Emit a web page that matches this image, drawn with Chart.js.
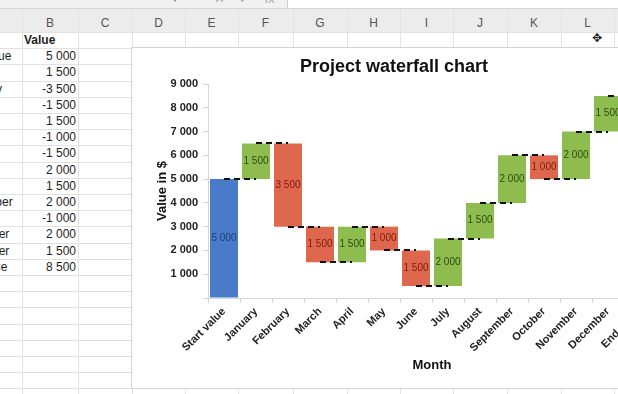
<!DOCTYPE html>
<html>
<head>
<meta charset="utf-8">
<script src="https://cdn.jsdelivr.net/npm/chart.js@4.4.0/dist/chart.umd.min.js"></script>
<style>
html,body{margin:0;padding:0;width:618px;height:394px;overflow:hidden;background:#fff;font-family:"Liberation Sans",Arial,sans-serif;}
#sheet{position:absolute;left:0;top:0;width:618px;height:394px;overflow:hidden;}
.hl{position:absolute;left:0;width:618px;height:1px;background:#e2e2e2;}
.vl{position:absolute;width:1px;background:#e2e2e2;}
.cell{position:absolute;font-size:12px;line-height:16px;color:#1e1e1e;white-space:nowrap;}
.hdr{position:absolute;top:15px;font-size:12px;line-height:16px;color:#555;text-align:center;}
#fbar{position:absolute;left:0;top:0;width:618px;height:8px;background:#f1f1f1;border-bottom:1px solid #d8d8d8;overflow:hidden;}
#headband{position:absolute;left:0;top:9px;width:618px;height:23px;background:#ececec;border-bottom:1px solid #cfcfcf;}
#chartBox{position:absolute;left:131px;top:47px;width:540px;height:340px;background:#fff;border:1px solid #d3d3d3;}
#chartBox canvas{position:absolute;left:0;top:0;}
</style>
</head>
<body>
<div id="sheet">
  <div id="fbar">
    <div style="position:absolute;left:287px;top:0;width:331px;height:8px;background:#fff;border-left:1px solid #d0d0d0;"></div>
    <div style="position:absolute;left:172px;top:-9px;font-size:12px;color:#777;">&#9662;</div>
    <div style="position:absolute;left:214px;top:-9px;font-size:13px;color:#aaa;">&#10005;&nbsp;&nbsp;&nbsp;&nbsp;&#10003;&nbsp;&nbsp;&nbsp;&nbsp;<i>fx</i></div>
  </div>
  <div id="headband"></div>
</div>
<div id="chartBox"><canvas id="wf" width="540" height="339"></canvas></div>

<script>
const FONT = '"Liberation Sans", Arial, sans-serif';

const categories = ['Start value','January','February','March','April','May','June',
  'July','August','September','October','November','December','End value'];
const changes = [5000,1500,-3500,-1500,1500,-1000,-1500,2000,1500,2000,-1000,2000,1500,8500];

const colLetters = ['B','C','D','E','F','G','H','I','J','K','L'];
const colEdges = [22,78,132,185,238,293,347,400,453,507,561,614];

const yMin = 0, yMax = 9000, yStep = 1000;

const COLORS = {
  total: '#4a7bc9', up: '#8cbd4e', down: '#df674d'
};
const LABEL_COLORS = {
  total: '#1d3d78', up: '#2f4a10', down: '#7c1c0c'
};

function fmt(n){
  const s = String(Math.abs(n)).replace(/\B(?=(\d{3})+(?!\d))/g, ' ');
  return n < 0 ? '-' + s : s;
}

// ---- spreadsheet background ----
(function buildSheet(){
  const sheet = document.getElementById('sheet');
  const ROW0 = 32, RH = 16.2;
  for(let k=0;k<=23;k++){
    const d = document.createElement('div');
    d.className = 'hl'; d.style.top = (ROW0 + RH*k) + 'px';
    sheet.appendChild(d);
  }
  colEdges.forEach(x => {
    const d = document.createElement('div');
    d.className = 'vl'; d.style.left = x + 'px'; d.style.top = '9px'; d.style.height = '385px';
    sheet.appendChild(d);
  });
  colLetters.forEach((c,i) => {
    const d = document.createElement('div');
    d.className = 'hdr';
    d.style.left = colEdges[i] + 'px';
    d.style.width = (colEdges[i+1]-colEdges[i]) + 'px';
    d.textContent = c;
    sheet.appendChild(d);
  });
  const addCell = (txt, x, row, opts) => {
    const d = document.createElement('div');
    d.className = 'cell';
    d.style.top = (ROW0 + RH*(row-1)) + 'px';
    if(opts && opts.right){ d.style.right = (618 - x) + 'px'; } else { d.style.left = x + 'px'; }
    if(opts && opts.bold) d.style.fontWeight = 'bold';
    d.textContent = txt;
    sheet.appendChild(d);
  };
  addCell('Value', 24, 1, {bold:true});
  categories.forEach((c,i) => {
    addCell(c, -46, i+2);
    addCell(fmt(changes[i]), 76, i+2, {right:true});
  });
  const cur = document.createElement('div');
  cur.className = 'cell';
  cur.style.left = '592px'; cur.style.top = '30px'; cur.style.fontSize = '12px';
  cur.style.fontFamily = '"DejaVu Sans"'; cur.style.color = '#222';
  cur.textContent = '\u2725';
  sheet.appendChild(cur);
})();

// ---- waterfall data ----
const n = categories.length;
const floating = [];
const levels = [];
const kinds = [];
let run = 0;
for(let i=0;i<n;i++){
  if(i === 0 || i === n-1){
    floating.push([0, changes[i]]);
    run = changes[i];
    kinds.push('total');
  } else {
    floating.push([run, run + changes[i]]);
    run += changes[i];
    kinds.push(changes[i] >= 0 ? 'up' : 'down');
  }
  levels.push(run);
}

const barLabels = {
  id: 'barLabels',
  afterDatasetsDraw(chart){
    const ctx = chart.ctx;
    const meta = chart.getDatasetMeta(0);
    ctx.save();
    ctx.font = '10px ' + FONT;
    ctx.textAlign = 'center';
    ctx.textBaseline = 'middle';
    meta.data.forEach((bar, i) => {
      ctx.fillStyle = LABEL_COLORS[kinds[i]];
      ctx.fillText(fmt(Math.abs(changes[i])), bar.x, (bar.y + bar.base)/2);
    });
    ctx.restore();
  }
};

const connectors = {
  id: 'connectors',
  afterDatasetsDraw(chart){
    const ctx = chart.ctx, xs = chart.scales.x, ys = chart.scales.y;
    ctx.save();
    ctx.strokeStyle = '#111';
    ctx.lineWidth = 2;
    ctx.setLineDash([6,4]);
    for(let i=0;i<n-1;i++){
      const y = Math.round(ys.getPixelForValue(levels[i]));
      ctx.beginPath();
      ctx.moveTo(xs.getPixelForValue(i), y);
      ctx.lineTo(xs.getPixelForValue(i+1), y);
      ctx.stroke();
    }
    ctx.restore();
  }
};

new Chart(document.getElementById('wf'), {
  type: 'bar',
  data: {
    labels: categories,
    datasets: [{
      data: floating,
      backgroundColor: kinds.map(k => COLORS[k]),
      borderWidth: 0,
      categoryPercentage: 1,
      barPercentage: 0.875
    }]
  },
  options: {
    responsive: false,
    animation: false,
    layout: { padding: { left: 0, right: 16, top: 0, bottom: 0 } },
    plugins: {
      legend: { display: false },
      tooltip: { enabled: false },
      title: {
        display: true, text: 'Project waterfall chart', color: '#111',
        font: { family: FONT, size: 18, weight: 'bold' },
        padding: { top: 8, bottom: 6.4 }
      }
    },
    scales: {
      x: {
        grid: { offset: true, drawOnChartArea: false, drawTicks: true, tickLength: 5, color: '#d6d6d6' },
        border: { color: '#d6d6d6' },
        ticks: { autoSkip: false, minRotation: 45, maxRotation: 45, padding: 2, color: '#222',
                 font: { family: FONT, size: 11, weight: 'bold' } },
        title: { display: true, text: 'Month', color: '#111',
                 font: { family: FONT, size: 13, weight: 'bold' }, padding: { top: 0, bottom: 14 } },
        afterFit(s){ s.height = 89; }
      },
      y: {
        min: yMin, max: yMax,
        grid: { drawOnChartArea: false, drawTicks: true, tickLength: 5, color: '#d6d6d6' },
        border: { color: '#d6d6d6' },
        ticks: { stepSize: yStep, padding: 5, color: '#222',
                 font: { family: FONT, size: 11, weight: 'bold' },
                 callback: v => v === 0 ? '' : fmt(v) },
        title: { display: true, text: 'Value in $', color: '#111',
                 font: { family: FONT, size: 13, weight: 'bold' }, padding: { top: 23, bottom: 0 } },
        afterFit(s){ s.width = 76; }
      }
    }
  },
  plugins: [barLabels, connectors]
});
</script>
</body>
</html>
